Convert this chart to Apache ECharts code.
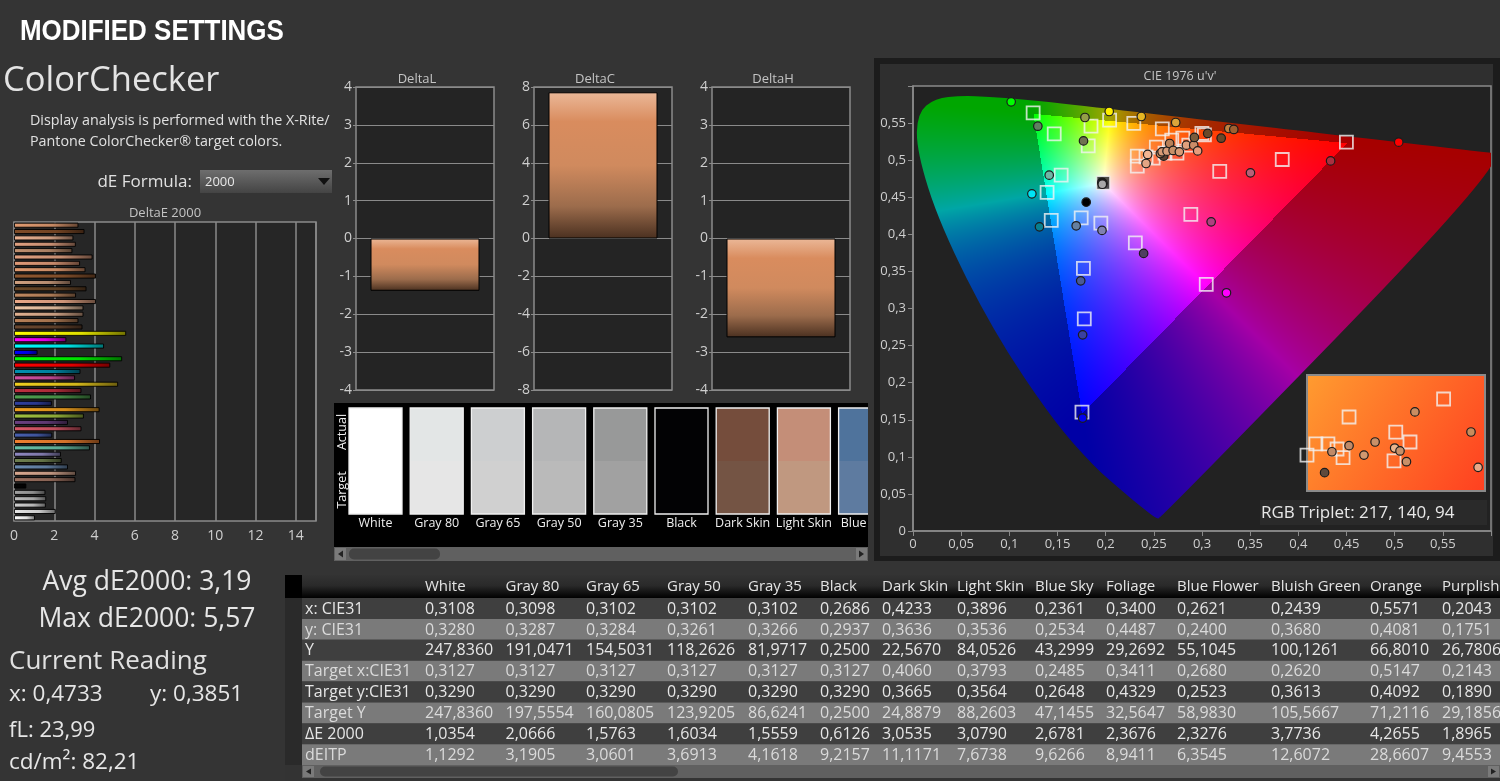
<!DOCTYPE html>
<html>
<head>
<meta charset="utf-8">
<style>html,body{margin:0;padding:0;background:#343434}#main{width:1500px;height:781px}</style>
<script src="https://cdn.jsdelivr.net/npm/echarts@6/dist/echarts.min.js"></script>
</head>
<body>
<div id="main"></div>
<script>
var FONT = '"Open Sans"';

// DeltaE 2000 bars, bottom to top
var patchNames = ['White','Gray 80','Gray 65','Gray 50','Gray 35','Black','Dark Skin','Light Skin','Blue Sky','Foliage','Blue Flower','Bluish Green','Orange','Purplish Blue','Moderate Red','Purple','Yellow Green','Orange Yellow','Blue','Green','Red','Yellow','Magenta','Cyan','100% Red','100% Green','100% Blue','100% Cyan','100% Magenta','100% Yellow','Skin 1','Skin 2','Skin 3','Skin 4','Skin 5','Skin 6','Skin 7','Skin 8','Skin 9','Skin 10','Skin 11','Skin 12','Skin 13','Skin 14','Skin 15','Skin 16','Skin 17'];
var patchDeltaE = [1.04,2.07,1.58,1.60,1.56,0.61,3.05,3.08,2.68,2.37,2.33,3.77,4.27,1.90,3.35,2.68,3.47,4.25,1.88,3.82,3.35,5.17,3.03,3.30,4.78,5.37,1.17,4.47,2.60,5.57,3.40,3.20,3.45,3.45,4.07,3.08,3.60,2.83,4.07,3.55,3.28,3.90,2.90,3.07,2.95,3.50,3.20];
var patchColors = ['#ffffff','#e6e6e6','#cfcfcf','#bbbbbb','#a0a0a0','#050505','#9a7060','#d8a890','#6a8ab0','#6f8050','#8f88c0','#68c0a8','#f08030','#4860b0','#d85868','#6a4080','#a0c040','#f0a020','#3040a0','#50a050','#c03040','#f0d020','#d050a0','#0090b0','#ff0000','#00ff00','#0000ff','#00ffff','#ff00ff','#ffff00','#6a4830','#b88058','#e0b090','#f0c8a8','#eaa888','#c08860','#6a4828','#d0a080','#905830','#e09a70','#e09a78','#e0a080','#c09070','#e0a080','#e8b090','#804c28','#e09a70'];

// single patch deltas
var deltaL = [-1.38];
var deltaC = [7.72];
var deltaH = [-2.61];

// swatches
var swatchNames = ['White','Gray 80','Gray 65','Gray 50','Gray 35','Black','Dark Skin','Light Skin','Blue Sky'];
var swatchActual = ['#ffffff','#e3e6e6','#cdcfd0','#b5b6b7','#989999','#020204','#754d3c','#c48e78','#4f739c'];
var swatchTarget = ['#ffffff','#e6e6e6','#d0d0d0','#bababa','#a1a1a1','#020204','#745444','#c09880','#5e7ba0'];

// u'v' targets (squares)
var targetU = [.1247,.1466,.1848,.2041,.2292,.1819,.2588,.2801,.2999,.3025,.4499,.3833,.3184,.1538,.1392,.1435,.1746,.1950,.2308,.2884,.1769,.3044,.1778,.1754,.2328,.2328,.2493,.2526,.2616,.2740,.2686,.2863,.2419];
var targetV = [.5637,.5354,.5458,.5539,.5495,.5193,.5422,.5296,.5360,.5341,.5243,.5009,.4848,.4798,.4565,.4187,.4222,.4151,.3885,.4268,.3540,.3325,.2861,.1604,.5054,.4919,.5027,.5175,.5094,.5094,.5270,.5202,.5044];
var whiteU = [.1975];
var whiteV = [.4694];

// u'v' measured (circles)
var actualU = [.1019,.1296,.1785,.2037,.2370,.2727,.1770,.1414,.1234,.1798,.1313,.1694,.1962,.2394,.3095,.3503,.5042,.4335,.3254,.1741,.1761,.1761,.1962,.1968,.1965,.1970,.1965,.2602,.2436,.2419,.2568,.2585,.2637,.2664,.2700,.2765,.2838,.2914,.2955,.2921,.3059,.3199,.3278,.3330];
var actualV = [.5786,.5458,.5575,.5656,.5589,.5508,.5260,.4798,.4546,.4434,.4101,.4115,.4053,.3743,.4168,.4829,.5243,.4990,.3212,.3373,.2645,.1523,.4702,.4695,.4688,.4683,.4675,.5054,.5077,.4955,.5090,.5112,.5121,.5225,.5131,.5112,.5202,.5202,.5125,.5306,.5360,.5296,.5427,.5414];
var actualColors = ['#00ff00','#5f8060','#949e48','#ffee00','#e6b722','#dba53a','#6f7050','#6fb5a5','#00e5f5','#000000','#087f90','#6580a0','#8080b0','#4f3f60','#b04080','#b86078','#ff0000','#aa3040','#ff00ff','#4a5a95','#3a40a0','#0000f0','#222222','#555555','#777777','#909090','#a8a8a8','#5a4030','#f2b593','#e3a584','#c48a60','#d89a74','#d89c78','#b88058','#c89068','#d89a74','#e0a07c','#cc8c68','#e89c7c','#7a5c3c','#6a4828','#6a4828','#c08040','#9f6030'];

// inset zoom of the skin tone area
var insetTargetU = [.2517,.2942,.2727,.2791,.2368,.2422,.2463,.2328,.2490,.2719];
var insetTargetV = [.5248,.5340,.5170,.5120,.5110,.5110,.5084,.5053,.5040,.5023];
var insetActualU = [.2813,.3065,.2634,.2517,.2722,.2746,.2440,.2584,.2775,.3097,.2407];
var insetActualV = [.5274,.5171,.5120,.5101,.5089,.5074,.5070,.5053,.5019,.4990,.4963];
var insetColors = ['#c98e62','#c88c5c','#c89068','#c08a68','#eab48c','#c89068','#c08a68','#d09870','#c89068','#e8a888','#604a3c'];

// spectral locus outline
var locusU = [.2568,.2522,.2347,.2161,.1877,.1441,.0828,.0282,.0035,.0046,.0231,.0501,.0792,.1127,.1531,.2026,.2623,.3315,.4035,.5203,.5830,.6234];
var locusV = [.0166,.0169,.0350,.0549,.0871,.1510,.2708,.4117,.5131,.5638,.5837,.5868,.5856,.5821,.5766,.5694,.5604,.5501,.5393,.5219,.5125,.5065];

// table
var tableCols = ['White','Gray 80','Gray 65','Gray 50','Gray 35','Black','Dark Skin','Light Skin','Blue Sky','Foliage','Blue Flower','Bluish Green','Orange','Purplish'];
var tableRowNames = ['x: CIE31','y: CIE31','Y','Target x:CIE31','Target y:CIE31','Target Y','ΔE 2000','dEITP'];
var rowX = ['0,3108','0,3098','0,3102','0,3102','0,3102','0,2686','0,4233','0,3896','0,2361','0,3400','0,2621','0,2439','0,5571','0,2043'];
var rowY = ['0,3280','0,3287','0,3284','0,3261','0,3266','0,2937','0,3636','0,3536','0,2534','0,4487','0,2400','0,3680','0,4081','0,1751'];
var rowLum = ['247,8360','191,0471','154,5031','118,2626','81,9717','0,2500','22,5670','84,0526','43,2999','29,2692','55,1045','100,1261','66,8010','26,7806'];
var rowTx = ['0,3127','0,3127','0,3127','0,3127','0,3127','0,3127','0,4060','0,3793','0,2485','0,3411','0,2680','0,2620','0,5147','0,2143'];
var rowTy = ['0,3290','0,3290','0,3290','0,3290','0,3290','0,3290','0,3665','0,3564','0,2648','0,4329','0,2523','0,3613','0,4092','0,1890'];
var rowTLum = ['247,8360','197,5554','160,0805','123,9205','86,6241','0,2500','24,8879','88,2603','47,1455','32,5647','58,9830','105,5667','71,2116','29,1856'];
var rowDE = ['1,0354','2,0666','1,5763','1,6034','1,5559','0,6126','3,0535','3,0790','2,6781','2,3676','2,3276','3,7736','4,2655','1,8965'];
var rowITP = ['1,1292','3,1905','3,0601','3,6913','4,1618','9,2157','11,1171','7,6738','9,6266','8,9411','6,3545','12,6072','28,6607','9,4553'];
var tableRows = [rowX,rowY,rowLum,rowTx,rowTy,rowTLum,rowDE,rowITP];
var tableColX = [425,505.5,586,667,748,820,882,957,1035,1106,1177,1271,1370,1442];

function zip(a, b) {
    return a.map(function (v, i) { return [v, b[i]]; });
}

function comma(v) {
    return String(v).replace('.', ',');
}

function darken(hex, f) {
    var n = parseInt(hex.slice(1), 16);
    return 'rgb(' + Math.round((n >> 16) * f) + ',' + Math.round(((n >> 8) & 255) * f) + ',' + Math.round((n & 255) * f) + ')';
}

// colour field behind the u'v' plot, drawn once and handed to a custom series
function gamutColor(u, v) {
    var d = 6 * u - 16 * v + 12;
    var x = 9 * u / d, y = 4 * v / d;
    var X = x / y, Z = (1 - x - y) / y;
    var c = [3.2406 * X - 1.5372 - 0.4986 * Z, -0.9689 * X + 1.8758 + 0.0415 * Z, 0.0557 * X - 0.2040 + 1.0570 * Z];
    var out = Math.min(c[0], c[1], c[2]) < 0;
    c = c.map(function (a) { return Math.max(a, 0); });
    var m = Math.max(c[0], c[1], c[2]);
    return c.map(function (a) {
        var g = Math.pow(a / m, out ? 1.05 : 0.95);
        return Math.round(255 * g * (out ? 0.65 : 1));
    });
}

function makeGamutImage(w, h, uMax, vMax) {
    var cv = document.createElement('canvas');
    cv.width = w;
    cv.height = h;
    var ctx = cv.getContext('2d');
    var img = ctx.createImageData(w, h);
    for (var py = 0; py < h; py++) {
        for (var px = 0; px < w; px++) {
            var c = gamutColor((px + 0.5) / w * uMax, Math.max(vMax - (py + 0.5) / h * vMax, 0.001));
            var k = (py * w + px) * 4;
            img.data[k] = c[0];
            img.data[k + 1] = c[1];
            img.data[k + 2] = c[2];
            img.data[k + 3] = 255;
        }
    }
    ctx.putImageData(img, 0, 0);
    // keep only the horseshoe
    ctx.globalCompositeOperation = 'destination-in';
    ctx.beginPath();
    var pts = zip(locusU, locusV).map(function (p) { return [p[0] / uMax * w, h - p[1] / vMax * h]; });
    ctx.moveTo((pts[pts.length - 1][0] + pts[0][0]) / 2, (pts[pts.length - 1][1] + pts[0][1]) / 2);
    for (var i = 0; i < pts.length; i++) {
        var nx = pts[(i + 1) % pts.length];
        ctx.quadraticCurveTo(pts[i][0], pts[i][1], (pts[i][0] + nx[0]) / 2, (pts[i][1] + nx[1]) / 2);
    }
    ctx.closePath();
    ctx.fill();
    return cv;
}

var gamutImage = makeGamutImage(578, 445, 0.6, 0.6);

function rect(x, y, w, h, fill, z) {
    return { type: 'rect', z: z === undefined ? -1 : z, silent: true, shape: { x: x, y: y, width: w, height: h }, style: { fill: fill } };
}

function txt(x, y, s, size, color, align, extra) {
    extra = extra || {};
    var font = (extra.weight ? extra.weight + ' ' : '') + size + 'px ' + (extra.family || FONT);
    // Open Sans sits a bit high when centred
    var dy = extra.rot ? 0 : size * 0.08;
    return { type: 'text', z: 20, silent: true, x: x, y: y + dy, rotation: extra.rot || 0, scaleX: extra.scaleX || 1,
        style: { text: s, fill: color, font: font, align: align || 'left', verticalAlign: 'middle' } };
}

function tri(points, fill) {
    return { type: 'polygon', z: 20, silent: true, shape: { points: points }, style: { fill: fill } };
}

function scrollbar(x, y, w, h, tx, tw) {
    return [
        rect(x, y, w, h, '#606060', 1),
        { type: 'rect', z: 2, silent: true, shape: { x: tx, y: y + 1.5, width: tw, height: h - 3, r: 5 }, style: { fill: '#434343' } },
        rect(x + 1, y + 1, 11, h - 2, '#7a7a7a', 2),
        rect(x + w - 12, y + 1, 11, h - 2, '#7a7a7a', 2),
        tri([[x + 9, y + 3.5], [x + 9, y + h - 3.5], [x + 4, y + h / 2]], '#222'),
        tri([[x + w - 9, y + 3.5], [x + w - 9, y + h - 3.5], [x + w - 4, y + h / 2]], '#222')
    ];
}

var gfx = [];
// panels
gfx.push(rect(874, 58, 626, 503, '#1c1c1c'));
gfx.push(rect(880, 64, 613, 492, '#2f2f2f'));
gfx.push(rect(334, 403, 534, 144, '#000000'));
gfx = gfx.concat(scrollbar(334, 547, 534, 14, 349, 91));
// header texts
gfx.push(txt(20, 29, 'MODIFIED SETTINGS', 30, '#ffffff', 'left', { weight: 'bold', family: '"Liberation Sans"', scaleX: 0.865 }));
gfx.push(txt(3, 78, 'ColorChecker', 34.5, '#e4e4e4'));
gfx.push(txt(30, 120, 'Display analysis is performed with the X-Rite/', 14.3, '#e0e0e0'));
gfx.push(txt(30, 141, 'Pantone ColorChecker® target colors.', 14.3, '#e0e0e0'));
gfx.push(txt(192, 181, 'dE Formula:', 17, '#e0e0e0', 'right'));
gfx.push({ type: 'rect', z: 1, silent: true, shape: { x: 200, y: 170, width: 132, height: 23 },
    style: { fill: new echarts.graphic.LinearGradient(0, 0, 0, 1, [{ offset: 0, color: '#6e6e6e' }, { offset: 1, color: '#444444' }]) } });
gfx.push(txt(205, 181, '2000', 13, '#e6e6e6'));
gfx.push(tri([[318, 178], [330, 178], [324, 185]], '#111'));
// chart titles
gfx.push(txt(165, 212, 'DeltaE 2000', 13, '#c4c4c4', 'center'));
gfx.push(txt(417, 78, 'DeltaL', 13, '#c4c4c4', 'center'));
gfx.push(txt(595, 78, 'DeltaC', 13, '#c4c4c4', 'center'));
gfx.push(txt(773, 78, 'DeltaH', 13, '#c4c4c4', 'center'));
gfx.push(txt(1180, 75, "CIE 1976 u'v'", 12.5, '#c4c4c4', 'center'));
// swatch side labels
gfx.push(txt(342, 432, 'Actual', 12.5, '#f0f0f0', 'center', { rot: Math.PI / 2 }));
gfx.push(txt(342, 490, 'Target', 12.5, '#f0f0f0', 'center', { rot: Math.PI / 2 }));
// rgb triplet box
gfx.push(rect(1260, 500, 227, 25, '#2a2a2a', 1));
gfx.push(txt(1261, 512, 'RGB Triplet: 217, 140, 94', 17, '#e8e8e8'));
// readouts
gfx.push(txt(147, 580, 'Avg dE2000: 3,19', 26.5, '#e6e6e6', 'center'));
gfx.push(txt(147, 617, 'Max dE2000: 5,57', 26.5, '#e6e6e6', 'center'));
gfx.push(txt(9, 660, 'Current Reading', 26, '#e0e0e0'));
gfx.push(txt(9, 693, 'x: 0,4733', 22.5, '#e6e6e6'));
gfx.push(txt(150, 693, 'y: 0,3851', 22.5, '#e6e6e6'));
gfx.push(txt(9, 729, 'fL: 23,99', 22, '#e6e6e6'));
gfx.push(txt(9, 761, 'cd/m²: 82,21', 22.5, '#e6e6e6'));
// table
gfx.push({ type: 'rect', z: 1, silent: true, shape: { x: 285, y: 575, width: 1215, height: 23 },
    style: { fill: new echarts.graphic.LinearGradient(0, 0, 0, 1, [{ offset: 0, color: '#333333' }, { offset: 0.45, color: '#2a2a2a' }, { offset: 1, color: '#000000' }]) } });
gfx.push(rect(285, 575, 17, 23, '#000000', 2));
gfx.push(rect(285, 598, 17, 167, '#2a2a2a', 1));
tableCols.forEach(function (c, j) {
    gfx.push(txt(tableColX[j], 586, c, 15, '#e4e4e4'));
});
tableRowNames.forEach(function (name, i) {
    var y = 598 + i * 20.9;
    gfx.push(rect(302, y, 1198, 20.9, i % 2 ? '#7a7a7a' : '#3f3f3f', 1));
    gfx.push(txt(305, y + 9.8, name, 16, i % 2 ? '#dadada' : '#e6e6e6'));
    tableRows[i].forEach(function (val, j) {
        gfx.push(txt(tableColX[j], y + 9.8, val, 16, i % 2 ? '#dadada' : '#e6e6e6'));
    });
});
gfx.push(rect(285, 765, 17, 16, '#333333', 1));
gfx = gfx.concat(scrollbar(302, 765, 1198, 13, 320, 358));

var axisLine = { lineStyle: { color: '#8a8a8a', width: 1.5 } };
var label = { color: '#cfcfcf', fontFamily: FONT, fontSize: 14 };

function deltaGrid(left) {
    return { left: left, top: 87, width: 138, height: 303, show: true, backgroundColor: '#242424', borderColor: '#8a8a8a', borderWidth: 1.5 };
}

function deltaX(idx) {
    return { gridIndex: idx, type: 'category', data: ['Light Skin'], show: false };
}

function deltaY(idx, lim, step) {
    return { gridIndex: idx, type: 'value', min: -lim, max: lim, interval: step,
        axisLine: { show: false }, axisTick: { show: true, length: 3, lineStyle: { color: '#8a8a8a' } },
        axisLabel: Object.assign({}, label, { margin: 4 }),
        splitLine: { lineStyle: { color: '#8a8a8a', width: 1.2 } } };
}

function deltaSeries(idx, data) {
    return { type: 'bar', xAxisIndex: idx, yAxisIndex: idx, data: data, barWidth: 109,
        itemStyle: { borderColor: '#000', borderWidth: 1,
            color: new echarts.graphic.LinearGradient(0, 0, 0, 1, [
                { offset: 0, color: '#ebb898' }, { offset: 0.2, color: '#d98c5e' }, { offset: 0.5, color: '#d08a5e' }, { offset: 0.78, color: '#9c6c4c' }, { offset: 1, color: '#4a3020' }]) } };
}

function scatterOf(xi, pts, size, style, z) {
    return { type: 'scatter', xAxisIndex: xi, yAxisIndex: xi, data: pts, symbol: style.symbol, symbolSize: size, z: z, silent: true, clip: true,
        itemStyle: style.itemStyle };
}

var squareStyle = { symbol: 'rect', itemStyle: { color: 'rgba(0,0,0,0)', borderColor: '#f2f2f2', borderWidth: 1.8 } };

function circleStyle(colors) {
    return { symbol: 'circle', itemStyle: { color: function (p) { return colors[p.dataIndex]; }, borderColor: '#1c1c1c', borderWidth: 1.2, opacity: 1 } };
}

var option = {
    animation: false,
    backgroundColor: '#343434',
    graphic: { elements: gfx },
    grid: [
        { left: 14, top: 222, width: 302, height: 299, show: true, backgroundColor: '#262626', borderColor: '#8a8a8a', borderWidth: 1.5 },
        deltaGrid(356),
        deltaGrid(534),
        deltaGrid(712),
        { left: 349, top: 408, width: 519, height: 106 },
        { left: 913, top: 86, width: 578, height: 445, show: true, backgroundColor: '#222222', borderColor: '#8a8a8a', borderWidth: 1.5 },
        { left: 1307, top: 375, width: 178, height: 116 }
    ],
    xAxis: [
        { gridIndex: 0, type: 'value', min: 0, max: 15, interval: 2,
            axisLine: axisLine, axisTick: { show: false },
            axisLabel: Object.assign({}, label, { margin: 8, formatter: function (v) { return v > 14 ? '' : v; } }),
            splitLine: { lineStyle: { color: '#8a8a8a', width: 1.5 } } },
        deltaX(1), deltaX(2), deltaX(3),
        { gridIndex: 4, type: 'value', min: 0, max: 519 / 61.2, show: false },
        { gridIndex: 5, type: 'value', min: 0, max: 0.6, interval: 0.05,
            axisLine: axisLine, axisTick: { length: 5, lineStyle: { color: '#8a8a8a' } }, splitLine: { show: false },
            axisLabel: Object.assign({}, label, { fontSize: 13, margin: 7, formatter: function (v) { return v > 0.58 ? '' : comma(+v.toFixed(2)); } }) },
        { gridIndex: 6, type: 'value', min: 0.2328, max: 0.3128, show: false }
    ],
    yAxis: [
        { gridIndex: 0, type: 'category', data: patchNames, show: false },
        deltaY(1, 4, 1), deltaY(2, 8, 2), deltaY(3, 4, 1),
        { gridIndex: 4, type: 'value', min: 0, max: 2, show: false },
        { gridIndex: 5, type: 'value', min: 0, max: 0.6, interval: 0.05,
            axisLine: axisLine, axisTick: { length: 5, lineStyle: { color: '#8a8a8a' } }, splitLine: { show: false },
            axisLabel: Object.assign({}, label, { fontSize: 13, margin: 7, formatter: function (v) { return v > 0.58 ? '' : comma(+v.toFixed(2)); } }) },
        { gridIndex: 6, type: 'value', min: 0.4869, max: 0.5463, show: false }
    ],
    series: [
        { type: 'bar', xAxisIndex: 0, yAxisIndex: 0, data: patchDeltaE, barWidth: 5, silent: true,
            itemStyle: { borderColor: '#000', borderWidth: 0.9,
                color: function (p) {
                    var c = patchColors[p.dataIndex];
                    return new echarts.graphic.LinearGradient(0, 0, 1, 0, [{ offset: 0, color: c }, { offset: 0.6, color: darken(c, 0.88) }, { offset: 1, color: darken(c, 0.45) }]);
                } } },
        deltaSeries(1, deltaL),
        deltaSeries(2, deltaC),
        deltaSeries(3, deltaH),
        { type: 'custom', xAxisIndex: 4, yAxisIndex: 4, silent: true, z: 3, data: swatchNames.map(function (n, i) { return [i]; }),
            encode: { x: 0 },
            renderItem: function (params, api) {
                var i = api.value(0);
                var a = api.coord([i, 2]);
                var m = api.coord([i, 1]);
                var b = api.coord([i, 0]);
                var w = 53;
                return { type: 'group',
                    clipPath: { type: 'rect', shape: { x: 334, y: 403, width: 534, height: 144 } },
                    children: [
                        { type: 'rect', shape: { x: a[0], y: a[1], width: w, height: m[1] - a[1] }, style: { fill: swatchActual[i] } },
                        { type: 'rect', shape: { x: a[0], y: m[1], width: w, height: b[1] - m[1] }, style: { fill: swatchTarget[i] } },
                        { type: 'rect', shape: { x: a[0], y: a[1], width: w, height: b[1] - a[1] }, style: { fill: 'none', stroke: '#f0f0f0', lineWidth: 1.3 } },
                        { type: 'text', style: { x: a[0] + w / 2, y: b[1] + 9, text: swatchNames[i], fill: '#eeeeee', font: '12.5px ' + FONT, align: 'center', verticalAlign: 'middle' } }
                    ] };
            } },
        { type: 'custom', xAxisIndex: 5, yAxisIndex: 5, silent: true, z: 2, data: [[0, 0.6]],
            encode: { x: 0, y: 1 },
            renderItem: function (params, api) {
                var p = api.coord([api.value(0), api.value(1)]);
                var s = api.size([0.6, 0.6]);
                return { type: 'image', style: { image: gamutImage, x: p[0], y: p[1], width: s[0], height: s[1] } };
            } },
        scatterOf(5, zip(whiteU, whiteV), 13, { symbol: 'rect', itemStyle: { color: '#222222', borderColor: '#f2f2f2', borderWidth: 1.2 } }, 3),
        scatterOf(5, zip(targetU, targetV), 13, squareStyle, 3),
        scatterOf(5, zip(actualU, actualV), 8.5, circleStyle(actualColors), 4),
        { type: 'custom', xAxisIndex: 6, yAxisIndex: 6, silent: true, z: 5, data: [[0.2328, 0.5463]],
            encode: { x: 0, y: 1 },
            renderItem: function (params, api) {
                var p = api.coord([api.value(0), api.value(1)]);
                var s = api.size([0.08, 0.0594]);
                return { type: 'rect', shape: { x: p[0], y: p[1], width: s[0], height: s[1] },
                    style: { stroke: '#8a8a8a', lineWidth: 2,
                        fill: new echarts.graphic.LinearGradient(0, 0, 1, 1, [{ offset: 0, color: '#ff9c30' }, { offset: 1, color: '#ff3f20' }]) } };
            } },
        scatterOf(6, zip(insetTargetU, insetTargetV), 13, squareStyle, 6),
        scatterOf(6, zip(insetActualU, insetActualV), 8.5, circleStyle(insetColors), 7)
    ]
};

var chart = echarts.init(document.getElementById('main'), null, { renderer: 'canvas' });
chart.setOption(option);
</script>
</body>
</html>
